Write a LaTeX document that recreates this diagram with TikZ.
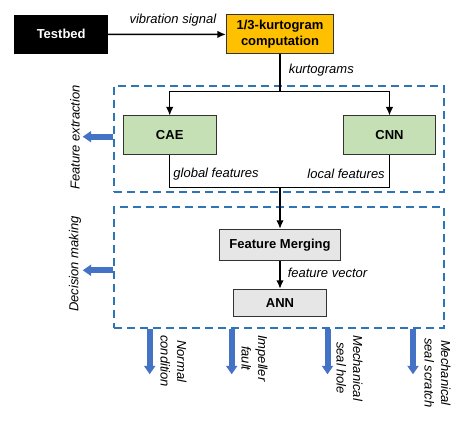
\documentclass[tikz,border=0pt]{standalone}
\usepackage{fontspec}
\setmainfont{Liberation Sans}
\usetikzlibrary{arrows.meta}
\definecolor{kurtfill}{HTML}{FFC000}
\definecolor{greenfill}{HTML}{C5E0B4}
\definecolor{grayfill}{HTML}{E7E6E6}
\definecolor{dashblue}{HTML}{2E75B6}
\definecolor{arrowblue}{HTML}{4472C4}
\tikzset{
  box/.style={draw=black!80, line width=1pt, inner sep=0pt, align=center,
    font=\fontsize{13}{16}\selectfont\bfseries},
  lab/.style={inner sep=0pt, font=\fontsize{13}{16}\selectfont\itshape},
  conn/.style={line width=1.5pt, line join=miter},
  arr/.style={conn, -{Latex[length=8.5pt,width=7.5pt]}},
  dashbox/.style={draw=dashblue, line width=1.8pt, dash pattern=on 8pt off 5pt, inner sep=0pt},
  bluearr/.style={draw=arrowblue, line width=6pt, -{Triangle[length=8.5pt,width=11pt]}},
  outlab/.style={inner sep=0pt, align=center, rotate=-90, anchor=west,
    font=\fontsize{13}{16.5}\selectfont\itshape},
  sidelab/.style={inner sep=0pt, rotate=90, font=\fontsize{13}{16}\selectfont\itshape}
}
\begin{document}
\begin{tikzpicture}[x=1pt,y=-1pt]
\useasboundingbox (0,0) rectangle (474,425);
% dashed boxes
\node[dashbox, minimum width=330pt, minimum height=106.3pt] (fe) at (279,139.2) {};
\node[dashbox, minimum width=330pt, minimum height=121pt] (dm) at (279,267.8) {};
% boxes
\node[box, fill=black, text=white, draw=black, minimum width=93pt, minimum height=38.3pt] (testbed) at (61.2,34.2) {Testbed};
\node[box, fill=kurtfill, minimum width=107.3pt, minimum height=39pt] (kurt) at (280,34.5) {1/3-kurtogram\\computation};
\node[box, fill=greenfill, minimum width=92.7pt, minimum height=39pt] (cae) at (169.7,135.5) {CAE};
\node[box, fill=greenfill, minimum width=92.4pt, minimum height=39pt] (cnn) at (389.5,135.5) {CNN};
\node[box, fill=grayfill, minimum width=121.7pt, minimum height=31.4pt] (fm) at (280,245) {Feature Merging};
\node[box, fill=grayfill, minimum width=93pt, minimum height=27.4pt] (ann) at (280,303) {ANN};
% connectors
\draw[arr] (testbed) -- node[lab, above=7.5pt, pos=0.55] {vibration signal} (kurt);
\coordinate (split) at (280,91.7);
\coordinate (merge) at (280,187.3);
\draw[conn] (kurt.south) -- node[lab, pos=0.43, right=8pt] {kurtograms} (split);
\draw[arr] (split) -| (cae.north);
\draw[arr] (split) -| (cnn.north);
\draw[conn] (cae.south) -- node[lab, pos=0.59, right=3pt] {global features} (cae.south |- merge)
  -- (cnn.south |- merge) -- node[lab, pos=0.41, left=4pt] {local features} (cnn.south);
\draw[arr] (merge) -- (fm.north);
\draw[arr] (fm) -- node[lab, pos=0.43, right=7pt] {feature vector} (ann);
% side labels and arrows
\node[sidelab] (felab) at (75,137.5) {Feature extraction};
\node[sidelab] (dmlab) at (75,264) {Decision making};
\coordinate (fetip) at (82.7,136.7);
\coordinate (dmtip) at (82.7,270.3);
\draw[bluearr] (fe.west |- fetip) -- (fetip);
\draw[bluearr] (dm.west |- dmtip) -- (dmtip);
% outputs
\coordinate (o1) at (149.7,374.3);
\coordinate (o2) at (231.7,374.3);
\coordinate (o3) at (327.5,374.3);
\coordinate (o4) at (413,374.3);
\draw[bluearr] (dm.south -| o1) -- (o1);
\draw[bluearr] (dm.south -| o2) -- (o2);
\draw[bluearr] (dm.south -| o3) -- (o3);
\draw[bluearr] (dm.south -| o4) -- (o4);
\node[outlab] (l1) at (173.5,335) {Normal\\condition};
\node[outlab] (l2) at (254.5,335) {Impeller\\fault};
\node[outlab] (l3) at (349.5,335) {Mechanical\\seal hole};
\node[outlab] (l4) at (437.5,338) {Mechanical\\seal scratch};
\end{tikzpicture}
\end{document}
